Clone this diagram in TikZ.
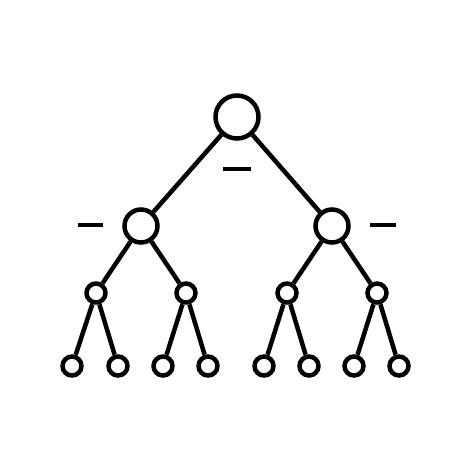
\documentclass[tikz,border=0pt]{standalone}
\begin{document}
\begin{tikzpicture}[x=1pt,y=-1pt,line width=4.5pt,
  vertex/.style={draw,circle,fill=white,inner sep=0pt,minimum size=#1}]
  \useasboundingbox (0,0) rectangle (474,474);
  \node[vertex=43pt] (r) at (237,117) {};
  \node[vertex=33pt] (a) at (141,226) {};
  \node[vertex=33pt] (b) at (332,226) {};
  \node[vertex=19pt] (a1) at (96,293) {};
  \node[vertex=19pt] (a2) at (186,293) {};
  \node[vertex=19pt] (b1) at (287,293) {};
  \node[vertex=19pt] (b2) at (377,293) {};
  \node[vertex=19pt] (l1) at (72,366) {};
  \node[vertex=19pt] (l2) at (118,366) {};
  \node[vertex=19pt] (l3) at (163,366) {};
  \node[vertex=19pt] (l4) at (208,366) {};
  \node[vertex=19pt] (l5) at (264,366) {};
  \node[vertex=19pt] (l6) at (309,366) {};
  \node[vertex=19pt] (l7) at (354,366) {};
  \node[vertex=19pt] (l8) at (399,366) {};
  \draw (r) -- (a); % root -- left
  \draw (r) -- (b); % root -- right
  \draw (a) -- (a1);
  \draw (a) -- (a2);
  \draw (b) -- (b1);
  \draw (b) -- (b2);
  \draw (a1) -- (l1);
  \draw (a1) -- (l2);
  \draw (a2) -- (l3);
  \draw (a2) -- (l4);
  \draw (b1) -- (l5);
  \draw (b1) -- (l6);
  \draw (b2) -- (l7);
  \draw (b2) -- (l8);
  % minus signs
  \draw (223,169) -- (251,169);
  \draw (78,225) -- (103,225);
  \draw (370,225) -- (396,225);
\end{tikzpicture}
\end{document}
